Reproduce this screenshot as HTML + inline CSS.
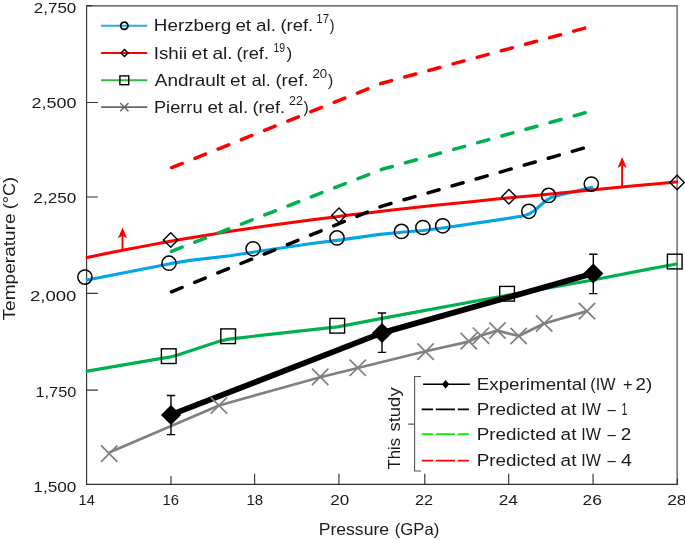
<!DOCTYPE html>
<html><head><meta charset="utf-8"><title>Figure</title>
<style>html,body{margin:0;padding:0;background:#fff}svg{display:block}</style></head>
<body>
<svg width="685" height="540" viewBox="0 0 685 540" font-family="'Liberation Sans', sans-serif">
<rect width="685" height="540" fill="#fff"/>
<g fill="none" stroke="#444" stroke-width="1">
<path d="M86.6,5.85H677.1V484.4" stroke="#444" stroke-width="1.15"/>
<path d="M86.6,5.35V484.4H677.6" stroke="#333" stroke-width="1.15"/>
</g>
<path d="M86.6,102.5h11.3M86.6,197h11.3M86.6,293.3h11.3M86.6,390.1h11.3M86.6,5.6499999999999995h5.6M171.0,484.4v-8.3M254.6,484.4v-10.7M338.9,484.4v-10.7M424.8,484.4v-10.7M508.7,484.4v-10.7M593.1,484.4v-10.7M677.4,484.4v-6.2" fill="none" stroke="#333" stroke-width="1.15"/>
<path d="M109.2,452.6 L171.1,426.1 L219.0,405.5 L320.2,377.2 L357.8,368.0 L425.6,351.3 L468.8,341.6 L481.0,335.5 L497.4,330.6 L518.7,336.0 L544.2,323.5 L587.0,311.1" fill="none" stroke="#808080" stroke-width="2.7" stroke-linejoin="round" />
<path d="M85.8,371.3 L169.0,357.2 L177.0,355.3 L220.0,341.1 L228.4,339.1 L240.0,337.8 L337.5,326.9 L390.0,316.9 L507.4,295.3 L592.8,280.0 L650.0,268.9 L678.0,263.8" fill="none" stroke="#00b050" stroke-width="3.2" stroke-linejoin="round" />
<path d="M85.8,280.2 L169.0,263.9 L190.0,260.4 L230.0,255.7 L253.0,252.2 L310.0,243.7 L337.0,240.4 L380.0,234.4 L401.5,232.3 L422.9,230.5 L442.7,228.0 L500.0,219.6 L524.0,215.8 L529.5,213.7 L534.0,211.0 L546.0,200.5 L551.0,197.6 L558.0,195.6 L593.0,187.1" fill="none" stroke="#00a6e9" stroke-width="3.1" stroke-linejoin="round" />
<path d="M85.8,257.8 L106.2,253.5 L126.6,249.5 L147.1,245.6 L167.5,241.8 L187.9,238.3 L208.3,234.9 L228.7,231.6 L249.2,228.5 L269.6,225.6 L290.0,222.7 L310.4,220.0 L330.8,217.4 L351.3,214.8 L371.7,212.4 L392.1,210.1 L412.5,207.8 L433.0,205.6 L453.4,203.5 L473.8,201.4 L494.2,199.3 L514.6,197.3 L535.1,195.4 L555.5,193.4 L575.9,191.5 L596.3,189.5 L616.7,187.6 L637.2,185.6 L657.6,183.7 L678.0,181.7" fill="none" stroke="#ff0000" stroke-width="3.0" stroke-linejoin="round" />
<path d="M171.5,251.3 L382.0,169.3 L593.0,110.6" fill="none" stroke="#00b050" stroke-width="3.5" stroke-linecap="round" stroke-linejoin="round" stroke-dasharray="11.4 13.62"/>
<path d="M171.5,291.8 L382.0,206.1 L593.0,145.4" fill="none" stroke="#000" stroke-width="3.5" stroke-linecap="round" stroke-linejoin="round" stroke-dasharray="11.4 13.62"/>
<path d="M171.7,167.7 L382.0,83.2 L593.0,25.9" fill="none" stroke="#ff0000" stroke-width="3.5" stroke-linecap="round" stroke-linejoin="round" stroke-dasharray="11.4 13.62"/>
<path d="M170.7,414.9 L381.9,332.9 L592.9,273.5" fill="none" stroke="#000" stroke-width="5.8" stroke-linejoin="round" />
<path d="M122.5,249.6V233.5" stroke="#ff0000" stroke-width="1.9" fill="none"/>
<path d="M122.5,227.5L127.1,238.3L122.5,235.7L117.9,238.3Z" fill="#ff0000"/>
<path d="M622.1,186V163.1" stroke="#ff0000" stroke-width="1.9" fill="none"/>
<path d="M622.1,157.1L626.7,167.9L622.1,165.29999999999998L617.5,167.9Z" fill="#ff0000"/>
<path d="M101.0,445.4L117.4,461.8M101.0,461.8L117.4,445.4M210.8,397.3L227.2,413.7M210.8,413.7L227.2,397.3M312.0,368.7L328.4,385.1M312.0,385.1L328.4,368.7M349.6,359.6L366.0,376.0M349.6,376.0L366.0,359.6M417.4,343.4L433.8,359.8M417.4,359.8L433.8,343.4M460.6,332.9L477.0,349.3M460.6,349.3L477.0,332.9M472.8,327.5L489.2,343.9M472.8,343.9L489.2,327.5M489.2,322.3L505.6,338.7M489.2,338.7L505.6,322.3M510.5,327.8L526.9,344.2M510.5,344.2L526.9,327.8M536.0,315.3L552.4,331.7M536.0,331.7L552.4,315.3M578.8,302.9L595.2,319.3M578.8,319.3L595.2,302.9" fill="none" stroke="#808080" stroke-width="1.7"/>
<rect x="161.4" y="348.8" width="14.7" height="14.7" fill="none" stroke="#000" stroke-width="1.4"/>
<rect x="220.8" y="328.9" width="14.7" height="14.7" fill="none" stroke="#000" stroke-width="1.4"/>
<rect x="329.9" y="318.4" width="14.7" height="14.7" fill="none" stroke="#000" stroke-width="1.4"/>
<rect x="499.7" y="286.4" width="14.7" height="14.7" fill="none" stroke="#000" stroke-width="1.4"/>
<rect x="667.4" y="254.2" width="14.7" height="14.7" fill="none" stroke="#000" stroke-width="1.4"/>
<circle cx="84.9" cy="277.1" r="7.1" fill="none" stroke="#000" stroke-width="1.5"/>
<circle cx="169" cy="263.2" r="7.1" fill="none" stroke="#000" stroke-width="1.5"/>
<circle cx="253.1" cy="248.8" r="7.1" fill="none" stroke="#000" stroke-width="1.5"/>
<circle cx="337.0" cy="237.9" r="7.1" fill="none" stroke="#000" stroke-width="1.5"/>
<circle cx="401.5" cy="231.4" r="7.1" fill="none" stroke="#000" stroke-width="1.5"/>
<circle cx="422.9" cy="227.5" r="7.1" fill="none" stroke="#000" stroke-width="1.5"/>
<circle cx="442.7" cy="225.8" r="7.1" fill="none" stroke="#000" stroke-width="1.5"/>
<circle cx="528.8" cy="211.3" r="7.1" fill="none" stroke="#000" stroke-width="1.5"/>
<circle cx="548.6" cy="195.4" r="7.1" fill="none" stroke="#000" stroke-width="1.5"/>
<circle cx="591.3" cy="184.1" r="7.1" fill="none" stroke="#000" stroke-width="1.5"/>
<path d="M170.7,232.8L177.89999999999998,240L170.7,247.2L163.5,240Z" fill="none" stroke="#000" stroke-width="1.4"/>
<path d="M339,208.0L346.2,215.2L339,222.39999999999998L331.8,215.2Z" fill="none" stroke="#000" stroke-width="1.4"/>
<path d="M508.9,189.60000000000002L516.1,196.8L508.9,204.0L501.7,196.8Z" fill="none" stroke="#000" stroke-width="1.4"/>
<path d="M677.1,175.3L684.3000000000001,182.5L677.1,189.7L669.9,182.5Z" fill="none" stroke="#000" stroke-width="1.4"/>
<path d="M171.0,395.5V434.6M166.8,395.5h8.4M166.8,434.6h8.4" fill="none" stroke="#000" stroke-width="1.4"/>
<path d="M171.0,405.1L181.1,415.1L171.0,425.1L160.9,415.1Z" fill="#000"/>
<path d="M382,313V352.4M377.8,313h8.4M377.8,352.4h8.4" fill="none" stroke="#000" stroke-width="1.4"/>
<path d="M382,322.9L392.1,332.9L382,342.9L371.9,332.9Z" fill="#000"/>
<path d="M593.3,254.2V293.6M589.0999999999999,254.2h8.4M589.0999999999999,293.6h8.4" fill="none" stroke="#000" stroke-width="1.4"/>
<path d="M593.3,263.6L603.4,273.6L593.3,283.6L583.1999999999999,273.6Z" fill="#000"/>
<path d="M101.1,25.7H147.3" stroke="#29abe2" stroke-width="1.9" fill="none"/>
<path d="M101.1,53H147.3" stroke="#ff0000" stroke-width="1.9" fill="none"/>
<path d="M101.1,80.3H147.3" stroke="#39b54a" stroke-width="1.9" fill="none"/>
<path d="M101.1,107.1H147.3" stroke="#666" stroke-width="1.9" fill="none"/>
<circle cx="124.3" cy="25.7" r="3.6" fill="none" stroke="#000" stroke-width="1.8"/>
<path d="M124.5,49.4L128.1,53L124.5,56.6L120.9,53Z" fill="none" stroke="#000" stroke-width="1.4"/>
<rect x="119.89999999999999" y="75.89999999999999" width="8.8" height="8.8" fill="none" stroke="#000" stroke-width="1.4"/>
<path d="M120.1,102.89999999999999L128.5,111.3M120.1,111.3L128.5,102.89999999999999" stroke="#666" stroke-width="1.4" fill="none"/>
<text transform="translate(153.87,31.00) scale(0.13899,0.12500)" font-size="135.2" fill="#1a1a1a">Herzberg</text>
<text transform="translate(235.40,31.00) scale(0.13925,0.12500)" font-size="135.2" fill="#1a1a1a">et</text>
<text transform="translate(256.11,31.00) scale(0.13889,0.12500)" font-size="135.2" fill="#1a1a1a">al.</text>
<text transform="translate(280.51,31.00) scale(0.13591,0.12500)" font-size="135.2" fill="#1a1a1a">(ref.</text>
<text transform="translate(329.80,31.00) scale(0.10541,0.12500)" font-size="135.2" fill="#1a1a1a">)</text>
<text transform="translate(316.28,23.10) scale(0.11735,0.12500)" font-size="97.6" fill="#1a1a1a">17</text>
<text transform="translate(153.73,59.30) scale(0.13881,0.12500)" font-size="135.2" fill="#1a1a1a">Ishii</text>
<text transform="translate(191.58,59.30) scale(0.14393,0.12500)" font-size="135.2" fill="#1a1a1a">et</text>
<text transform="translate(212.39,59.30) scale(0.14206,0.12500)" font-size="135.2" fill="#1a1a1a">al.</text>
<text transform="translate(236.52,59.30) scale(0.13500,0.12500)" font-size="135.2" fill="#1a1a1a">(ref.</text>
<text transform="translate(286.40,59.30) scale(0.12703,0.12500)" font-size="135.2" fill="#1a1a1a">)</text>
<text transform="translate(273.55,51.90) scale(0.10714,0.12500)" font-size="97.6" fill="#1a1a1a">19</text>
<text transform="translate(154.80,86.10) scale(0.14024,0.12500)" font-size="135.2" fill="#1a1a1a">Andrault</text>
<text transform="translate(230.00,86.10) scale(0.14019,0.12500)" font-size="135.2" fill="#1a1a1a">et</text>
<text transform="translate(251.73,86.10) scale(0.13333,0.12500)" font-size="135.2" fill="#1a1a1a">al.</text>
<text transform="translate(275.39,86.10) scale(0.13818,0.12500)" font-size="135.2" fill="#1a1a1a">(ref.</text>
<text transform="translate(328.00,86.10) scale(0.11622,0.12500)" font-size="135.2" fill="#1a1a1a">)</text>
<text transform="translate(312.45,77.80) scale(0.13627,0.12500)" font-size="97.6" fill="#1a1a1a">20</text>
<text transform="translate(153.92,112.50) scale(0.13490,0.12500)" font-size="135.2" fill="#1a1a1a">Pierru</text>
<text transform="translate(207.40,112.50) scale(0.13925,0.12500)" font-size="135.2" fill="#1a1a1a">et</text>
<text transform="translate(228.09,112.50) scale(0.14127,0.12500)" font-size="135.2" fill="#1a1a1a">al.</text>
<text transform="translate(252.51,112.50) scale(0.13591,0.12500)" font-size="135.2" fill="#1a1a1a">(ref.</text>
<text transform="translate(303.60,112.50) scale(0.11622,0.12500)" font-size="135.2" fill="#1a1a1a">)</text>
<text transform="translate(289.09,104.50) scale(0.12772,0.12500)" font-size="97.6" fill="#1a1a1a">22</text>
<path d="M421,376.5H414.6V471H421M414.6,424.1H408.2" fill="none" stroke="#555" stroke-width="1.1"/>
<path d="M423.1,384.3H469.9" stroke="#000" stroke-width="1.6" fill="none"/>
<path d="M445.6,379.90000000000003L449.20000000000005,384.3L445.6,388.7L442.0,384.3Z" fill="#000"/>
<path d="M421.7,409.3H433.1M435.8,409.3H455M457.8,409.3H468.9" stroke="#000" stroke-width="1.8" fill="none"/>
<path d="M421.7,434.2H433.1M435.8,434.2H455M457.8,434.2H468.9" stroke="#00f000" stroke-width="1.8" fill="none"/>
<path d="M421.7,460.7H433.1M435.8,460.7H455M457.8,460.7H468.9" stroke="#ff0000" stroke-width="1.8" fill="none"/>
<text transform="translate(476.77,389.50) scale(0.13893,0.12500)" font-size="135.2" fill="#1a1a1a">Experimental</text>
<text transform="translate(590.34,389.50) scale(0.11940,0.12500)" font-size="135.2" fill="#1a1a1a">(IW</text>
<text transform="translate(622.97,389.50) scale(0.12090,0.12500)" font-size="135.2" fill="#1a1a1a">+</text>
<text transform="translate(635.57,389.50) scale(0.13868,0.12500)" font-size="135.2" fill="#1a1a1a">2)</text>
<text transform="translate(476.77,415.40) scale(0.13902,0.12500)" font-size="135.2" fill="#1a1a1a">Predicted</text>
<text transform="translate(560.60,415.40) scale(0.14019,0.12500)" font-size="135.2" fill="#1a1a1a">at</text>
<text transform="translate(581.27,415.40) scale(0.11895,0.12500)" font-size="135.2" fill="#1a1a1a">IW</text>
<text transform="translate(607.60,415.40) scale(0.11053,0.12500)" font-size="135.2" fill="#1a1a1a">–</text>
<text transform="translate(621.50,415.40) scale(0.07966,0.12500)" font-size="135.2" fill="#1a1a1a">1</text>
<text transform="translate(476.77,440.40) scale(0.13902,0.12500)" font-size="135.2" fill="#1a1a1a">Predicted</text>
<text transform="translate(560.60,440.40) scale(0.14019,0.12500)" font-size="135.2" fill="#1a1a1a">at</text>
<text transform="translate(581.27,440.40) scale(0.11895,0.12500)" font-size="135.2" fill="#1a1a1a">IW</text>
<text transform="translate(607.60,440.40) scale(0.11053,0.12500)" font-size="135.2" fill="#1a1a1a">–</text>
<text transform="translate(620.66,440.40) scale(0.13968,0.12500)" font-size="135.2" fill="#1a1a1a">2</text>
<text transform="translate(476.77,465.50) scale(0.13902,0.12500)" font-size="135.2" fill="#1a1a1a">Predicted</text>
<text transform="translate(560.60,465.50) scale(0.14019,0.12500)" font-size="135.2" fill="#1a1a1a">at</text>
<text transform="translate(581.27,465.50) scale(0.11895,0.12500)" font-size="135.2" fill="#1a1a1a">IW</text>
<text transform="translate(607.60,465.50) scale(0.11053,0.12500)" font-size="135.2" fill="#1a1a1a">–</text>
<text transform="translate(621.07,465.50) scale(0.14493,0.12500)" font-size="135.2" fill="#1a1a1a">4</text>
<text transform="translate(400.00,469.37) rotate(-90) scale(0.12339,0.125)" font-size="135.2" fill="#1a1a1a">This</text>
<text transform="translate(400.00,431.61) rotate(-90) scale(0.13719,0.125)" font-size="135.2" fill="#1a1a1a">study</text>
<text transform="translate(14.80,320.42) rotate(-90) scale(0.14120,0.125)" font-size="135.2" fill="#1a1a1a">Temperature</text>
<text transform="translate(14.80,209.27) rotate(-90) scale(0.13378,0.125)" font-size="135.2" fill="#1a1a1a">(°C)</text>
<text transform="translate(318.77,534.80) scale(0.12996,0.12500)" font-size="135.2" fill="#1a1a1a">Pressure</text>
<text transform="translate(394.81,534.80) scale(0.12355,0.12500)" font-size="135.2" fill="#1a1a1a">(GPa)</text>
<text transform="translate(33.68,13.10) scale(0.13675,0.11875)" font-size="124.8" fill="#1a1a1a">2,750</text>
<text transform="translate(31.44,107.50) scale(0.14404,0.11875)" font-size="124.8" fill="#1a1a1a">2,500</text>
<text transform="translate(33.37,202.90) scale(0.13775,0.11875)" font-size="124.8" fill="#1a1a1a">2,250</text>
<text transform="translate(30.01,300.70) scale(0.14868,0.11875)" font-size="124.8" fill="#1a1a1a">2,000</text>
<text transform="translate(35.42,397.20) scale(0.13110,0.11875)" font-size="124.8" fill="#1a1a1a">1,750</text>
<text transform="translate(33.36,491.80) scale(0.13779,0.11875)" font-size="124.8" fill="#1a1a1a">1,500</text>
<text transform="translate(78.54,504.90) scale(0.11732,0.11750)" font-size="124.8" fill="#1a1a1a">14</text>
<text transform="translate(162.43,504.90) scale(0.11905,0.11750)" font-size="124.8" fill="#1a1a1a">16</text>
<text transform="translate(246.42,504.90) scale(0.11984,0.11750)" font-size="124.8" fill="#1a1a1a">18</text>
<text transform="translate(330.28,504.90) scale(0.13721,0.11750)" font-size="124.8" fill="#1a1a1a">20</text>
<text transform="translate(414.92,504.90) scale(0.12969,0.11750)" font-size="124.8" fill="#1a1a1a">22</text>
<text transform="translate(498.67,504.90) scale(0.13769,0.11750)" font-size="124.8" fill="#1a1a1a">24</text>
<text transform="translate(582.46,504.90) scale(0.13953,0.11750)" font-size="124.8" fill="#1a1a1a">26</text>
<text transform="translate(667.16,504.90) scale(0.13953,0.11750)" font-size="124.8" fill="#1a1a1a">28</text>
</svg>
</body></html>
